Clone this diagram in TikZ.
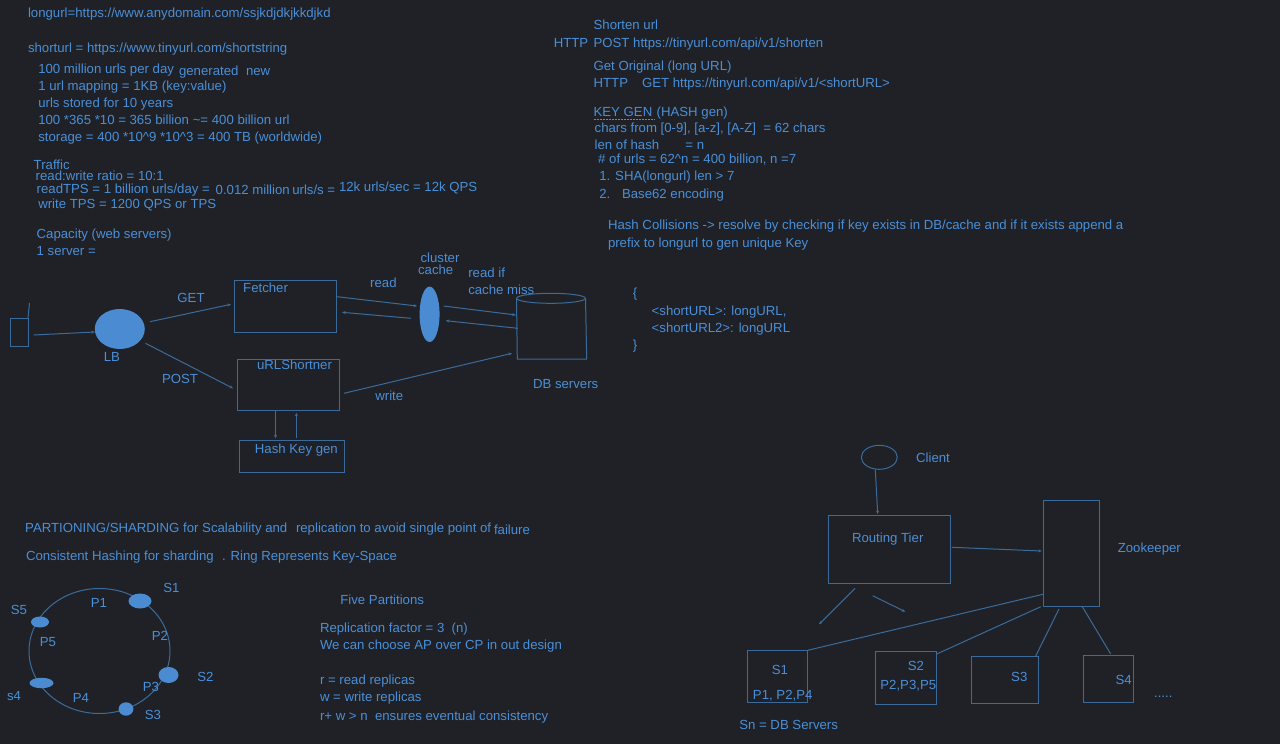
\documentclass[tikz,border=0pt]{standalone}
\usepackage{fontspec}
\setmainfont{Liberation Sans}
\usetikzlibrary{shapes.geometric,arrows.meta,calc}
\definecolor{bg}{HTML}{1F2126}
\definecolor{tx}{HTML}{4A8FD8}
\definecolor{ln}{HTML}{3B6B9B}
\definecolor{fl}{HTML}{4A8BD2}
\begin{document}
\begin{tikzpicture}[x=1pt,y=-1pt,
  font=\fontsize{13.2}{15}\selectfont,
  txt/.style={text=tx,inner sep=0pt,outer sep=0pt,anchor=west,text height=0.76em,text depth=0pt},
  ctxt/.style={txt,anchor=center},
  box/.style={draw=ln,line width=1pt,rectangle,inner sep=0pt,outer sep=0pt},
  blob/.style={ellipse,fill=fl,draw=none,inner sep=0pt,outer sep=0pt},
  hollow/.style={ellipse,draw=ln,line width=1pt,inner sep=0pt,outer sep=0pt},
  arr/.style={draw=ln,line width=1pt,-{Stealth[length=3.5pt,width=3pt]}},
  plain/.style={draw=ln,line width=1pt}]
\fill[bg] (0,0) rectangle (1280,744);
\useasboundingbox (0,0) rectangle (1280,744);

% ---------- top-left notes ----------
\node[txt] (a1) at (28,14) {longurl=https://www.anydomain.com/ssjkdjdkjkkdjkd};
\node[txt] (a2) at (28,48.7) {shorturl = https://www.tinyurl.com/shortstring};
\node[txt] (a3) at (38.3,69.3) {100 million urls per day};
\node[txt] (a3b) at (179,71.3) {generated};
\node[txt] (a3c) at (246,71.3) {new};
\node[txt] (a4) at (38.3,86.7) {1 url mapping = 1KB (key:value)};
\node[txt] (a5) at (38.3,104) {urls stored for 10 years};
\node[txt] (a6) at (38.3,120.7) {100 *365 *10 = 365 billion \textasciitilde= 400 billion url};
\node[txt] (a7) at (38.3,137.3) {storage = 400 *10\textasciicircum 9 *10\textasciicircum 3 = 400 TB (worldwide)};
\node[txt] (a8) at (33.7,165.3) {Traffic};
\node[txt] (a9) at (35.7,176.7) {read:write ratio = 10:1};
\node[txt] (a10) at (36.7,189.3) {readTPS = 1 billion urls/day =};
\node[txt] (a10b) at (215.7,190.7) {0.012 million};
\node[txt] (a10c) at (292.3,190.7) {urls/s =};
\node[txt] (a10d) at (339,187.7) {12k urls/sec = 12k QPS};
\node[txt] (a11) at (38.3,204.7) {write TPS = 1200 QPS or TPS};
\node[txt] (a12) at (36.7,235) {Capacity (web servers)};
\node[txt] (a13) at (36.7,251.7) {1 server =};

% ---------- top-right notes ----------
\node[txt] (b1) at (593.6,25.7) {Shorten url};
\node[txt] (b2a) at (553.8,43.3) {HTTP};
\node[txt] (b2) at (593.6,43.3) {POST https://tinyurl.com/api/v1/shorten};
\node[txt] (b3) at (593.6,66.7) {Get Original (long URL)};
\node[txt] (b4a) at (593.6,83.3) {HTTP};
\node[txt] (b4) at (642,83.3) {GET https://tinyurl.com/api/v1/<shortURL>};
\node[txt] (b5a) at (593.6,112.7) {KEY GEN};
\node[txt] (b5) at (656.7,112.7) {(HASH gen)};
\draw[draw=tx,line width=0.8pt,dash pattern=on 2pt off 1pt] ([shift={(0,7)}]b5a.west) -- ++(61,0);
\node[txt] (b6) at (594.7,128.3) {chars from [0-9], [a-z], [A-Z] \ = 62 chars};
\node[txt] (b7) at (594.7,145.7) {len of hash};
\node[txt] (b7b) at (685.4,145.7) {= n};
\node[txt] (b8) at (598.2,160) {\# of urls = 62\textasciicircum n = 400 billion, n =7};
\node[txt] (b9) at (599.3,177) {1. SHA(longurl) len > 7};
\node[txt] (b10) at (599.3,194.3) {2.};
\node[txt] (b10b) at (622,194.3) {Base62 encoding};
\node[txt] (b11) at (608,225.7) {Hash Collisions -> resolve by checking if key exists in DB/cache and if it exists append a};
\node[txt] (b12) at (608,243.3) {prefix to longurl to gen unique Key};

% ---------- architecture diagram ----------
\node[box,minimum width=18pt,minimum height=28pt] (dev) at (19,332) {};
\draw[plain] (dev.north east) -- ++(1.5,-15);
\node[blob,minimum width=50pt,minimum height=40pt] (lb) at (119.8,329) {};
\node[ctxt] (lbl) at (111.9,357.7) {LB};
\node[box,minimum width=102pt,minimum height=52pt] (fetcher) at (285,306.7) {};
\node[ctxt] (fetl) at (265.6,289) {Fetcher};
\node[box,minimum width=102pt,minimum height=50.7pt] (short) at (288,384.7) {};
\node[ctxt] (shl) at (294.5,365.7) {uRLShortner};
\node[box,minimum width=105pt,minimum height=32.7pt] (hash) at (291.5,456.35) {};
\node[ctxt] (hashl) at (296.4,450) {Hash Key gen};
\node[blob,minimum width=20pt,minimum height=55.4pt] (cache) at (429.6,314.3) {};
\node[ctxt] (cl1) at (440,258.3) {cluster};
\node[ctxt] (cl2) at (435.7,270.7) {cache};
\node[txt] (rif1) at (468.3,273.3) {read if};
\node[txt] (rif2) at (468.3,290.7) {cache miss};
% DB cylinder
\node[inner sep=0pt,outer sep=0pt,minimum width=68pt,minimum height=66pt] (db) at (551.5,326) {};
\draw[plain] (551,298.3) ellipse [x radius=34.5pt, y radius=5pt];
\draw[plain] (516.5,298.3) -- (517.3,359) -- (586.7,359) -- (585.5,298.3);
\node[ctxt] (dbl) at (565.7,385) {DB servers};
\node[ctxt] (getl) at (191,298.3) {GET};
\node[ctxt] (postl) at (180,379.3) {POST};
\node[ctxt] (readl) at (383.4,284) {read};
\node[ctxt] (writel) at (389.3,396.7) {write};

\draw[arr] ([shift={(5.6,3)}]dev.east) -- ([shift={(0,3)}]lb.west);
\draw[arr] ([shift={(5.2,-7.3)}]lb.east) -- ([shift={(-3,-2.4)}]fetcher.west);
\draw[arr] ([shift={(0.7,14.3)}]lb.east) -- ([shift={(-4,3.6)}]short.west);
\draw[arr] ([shift={(1,-10)}]fetcher.east) -- ([shift={(-2.6,-8.3)}]cache.west);
\draw[arr] ([shift={(-8.6,4)}]cache.west) -- ([shift={(6,5.6)}]fetcher.east);
\draw[arr] ([shift={(4,-8.3)}]cache.east) -- ([shift={(-1.7,-11)}]db.west);
\draw[arr] ([shift={(0.3,2.3)}]db.west) -- ([shift={(6.2,6.4)}]cache.east);
\draw[arr] ([shift={(5,8.6)}]short.east) -- ([shift={(-5.5,27.3)}]db.west);
\draw[arr] ([shift={(-12.5,0.7)}]short.south) -- ([shift={(-16,-1.7)}]hash.north);
\draw[arr] ([shift={(4.9,-1.7)}]hash.north) -- ([shift={(8.4,2.7)}]short.south);

% ---------- JSON ----------
\node[ctxt] (j1) at (635,293.3) {\{};
\node[txt] (j2) at (651.7,311.7) {<shortURL>: longURL,};
\node[txt] (j3) at (651.7,328.3) {<shortURL2>: longURL};
\node[ctxt] (j4) at (635,346) {\}};

% ---------- sharding notes ----------
\node[txt] (c1) at (25.2,528.3) {PARTIONING/SHARDING for Scalability and};
\node[txt] (c1b) at (296,528.3) {replication to avoid single point of};
\node[txt] (c1c) at (494,530.7) {failure};
\node[txt] (c2) at (26,556.7) {Consistent Hashing for sharding};
\node[txt] (c2b) at (222,556.7) {. Ring Represents Key-Space};
\node[txt] (c3) at (340.4,601) {Five Partitions};
\node[txt] (c4) at (320,628.3) {Replication factor = 3 \ (n)};
\node[txt] (c5) at (320,646) {We can choose AP over CP in out design};
\node[txt] (c6) at (320,680.7) {r = read replicas};
\node[txt] (c7) at (320,697.7) {w = write replicas};
\node[txt] (c8) at (320,716.7) {r+ w > n \ ensures eventual consistency};

% ring
\node[hollow,minimum width=141pt,minimum height=125pt] (ring) at (99.5,651) {};
\node[blob,minimum width=23pt,minimum height=15pt] (rs1) at (140,601) {};
\node[blob,minimum width=18pt,minimum height=11pt] (rs5) at (40,622) {};
\node[blob,minimum width=24pt,minimum height=10.5pt] (rs4) at (41.5,683) {};
\node[blob,minimum width=20pt,minimum height=16pt] (rs2) at (168.5,675) {};
\node[blob,minimum width=14.8pt,minimum height=13.4pt] (rs3) at (126,709) {};
\node[ctxt] (ls1) at (171.5,589) {S1};
\node[ctxt] (ls5) at (19,611) {S5};
\node[ctxt] (lp1) at (99,604) {P1};
\node[ctxt] (lp2) at (160,637) {P2};
\node[ctxt] (lp5) at (48,643) {P5};
\node[ctxt] (ls2) at (205.5,678) {S2};
\node[ctxt] (lp3) at (151,688) {P3};
\node[ctxt] (ls4) at (14,697) {s4};
\node[ctxt] (lp4) at (81,699) {P4};
\node[ctxt] (ls3) at (153,716) {S3};

% ---------- routing diagram ----------
\node[hollow,minimum width=36pt,minimum height=24pt] (client) at (879.3,457.3) {};
\node[ctxt] (clientl) at (933,458.7) {Client};
\node[box,minimum width=121.7pt,minimum height=68.3pt] (routing) at (889.2,549.2) {};
\node[ctxt] (routl) at (887.7,538.3) {Routing Tier};
\node[box,minimum width=55.7pt,minimum height=106pt] (zk) at (1071.2,553) {};
\node[ctxt] (zkl) at (1149.3,549) {Zookeeper};
\node[box,minimum width=60.4pt,minimum height=52.4pt] (s1) at (777.5,676.5) {};
\node[ctxt] (s1l) at (780,670.7) {S1};
\node[ctxt] (s1p) at (782.7,695.7) {P1, P2,P4};
\node[box,minimum width=61pt,minimum height=52.7pt] (s2) at (905.5,677.65) {};
\node[ctxt] (s2l) at (916,667) {S2};
\node[ctxt] (s2p) at (908.3,685.7) {P2,P3,P5};
\node[box,minimum width=67pt,minimum height=46.7pt] (s3) at (1004.8,679.65) {};
\node[ctxt] (s3l) at (1019.3,677.7) {S3};
\node[box,minimum width=50pt,minimum height=46.7pt] (s4) at (1108.3,678.65) {};
\node[ctxt] (s4l) at (1123.7,680.7) {S4};
\node[ctxt] (dots) at (1163.3,693.3) {.....};
\node[txt] (snl) at (739.3,725.7) {Sn = DB Servers};

\draw[arr] ([shift={(-4,0)}]client.south) -- ([shift={(-11.5,-1)}]routing.north);
\draw[arr] ([shift={(1.7,-1.9)}]routing.east) -- ([shift={(-1.6,-2)}]zk.west);
\draw[arr] ([shift={(-34.2,5)}]routing.south) -- ([shift={(41.5,-26)}]s1.north);
\draw[arr] ([shift={(-16.5,12.4)}]routing.south) -- ([shift={(-0.2,-39.6)}]s2.north);
\draw[plain] ([shift={(-0.6,41.3)}]zk.west) -- (s1.north east);
\draw[plain] ([shift={(-2.6,0.7)}]zk.south west) -- ([shift={(0.7,2.7)}]s2.north east);
\draw[plain] ([shift={(-12.2,3)}]zk.south) -- ([shift={(-2.6,-0.3)}]s3.north east);
\draw[plain] ([shift={(11.1,0.7)}]zk.south) -- ([shift={(2.4,-1.3)}]s4.north);
\end{tikzpicture}
\end{document}
